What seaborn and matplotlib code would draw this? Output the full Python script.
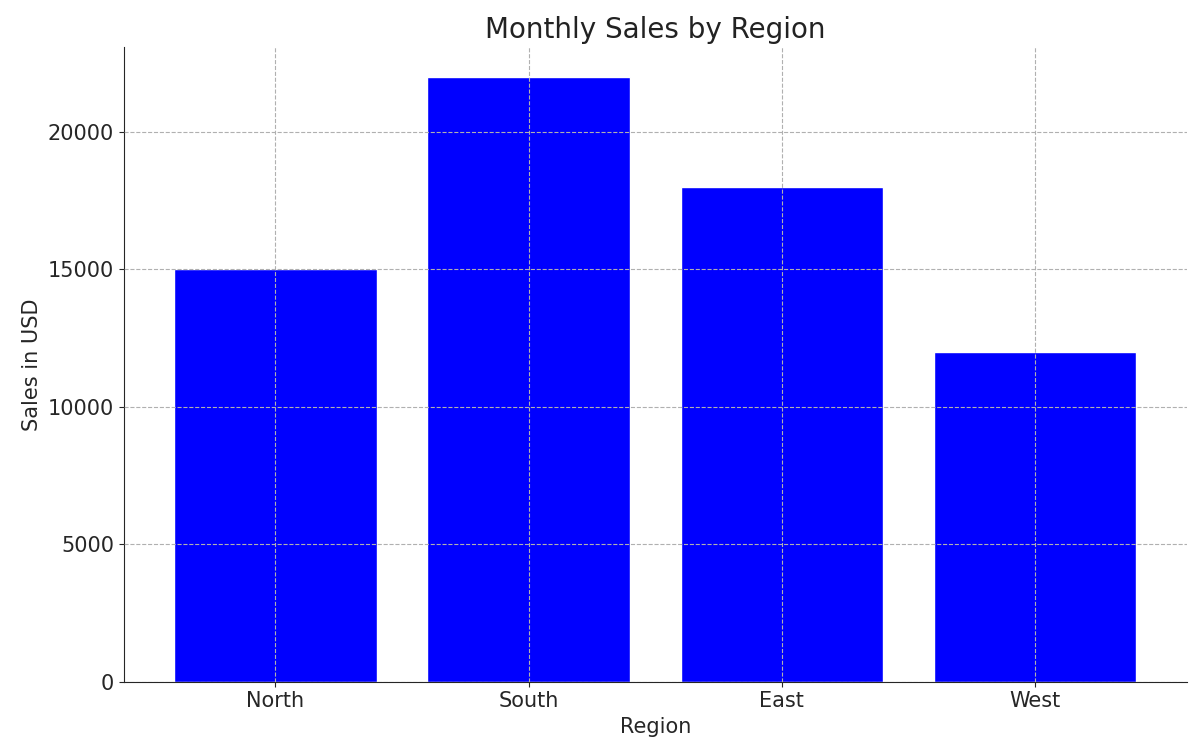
import matplotlib
matplotlib.use('Agg')
import matplotlib.pyplot as plt
import seaborn as sns
import pandas as pd

regions = ['North', 'South', 'East', 'West']
sales = [15000, 22000, 18000, 12000]

sns.set_style('ticks')
plt.rcParams['font.family'] = ['DejaVu Sans']

df = pd.DataFrame({'Region': regions, 'Sales': sales})

fig, ax = plt.subplots(figsize=(12, 7.55), dpi=100)
sns.barplot(data=df, x='Region', y='Sales', color='blue', saturation=1,
            width=0.8, ax=ax)

ax.set_title('Monthly Sales by Region', fontsize=20, color='#222222')
ax.set_xlabel('Region', fontsize=15)
ax.set_ylabel('Sales in USD', fontsize=15)
ax.tick_params(labelsize=15)
ax.set_yticks([0, 5000, 10000, 15000, 20000])
ax.set_ylim(0, 23100)
ax.set_xlim(-0.6, 3.6)
ax.set_axisbelow(False)
ax.grid(True, linestyle='--', color='#b0b0b0', linewidth=0.8)
sns.despine(ax=ax)

fig.subplots_adjust(left=0.103, right=0.989, top=0.938, bottom=0.097)
fig.savefig('out.png', dpi=100)
